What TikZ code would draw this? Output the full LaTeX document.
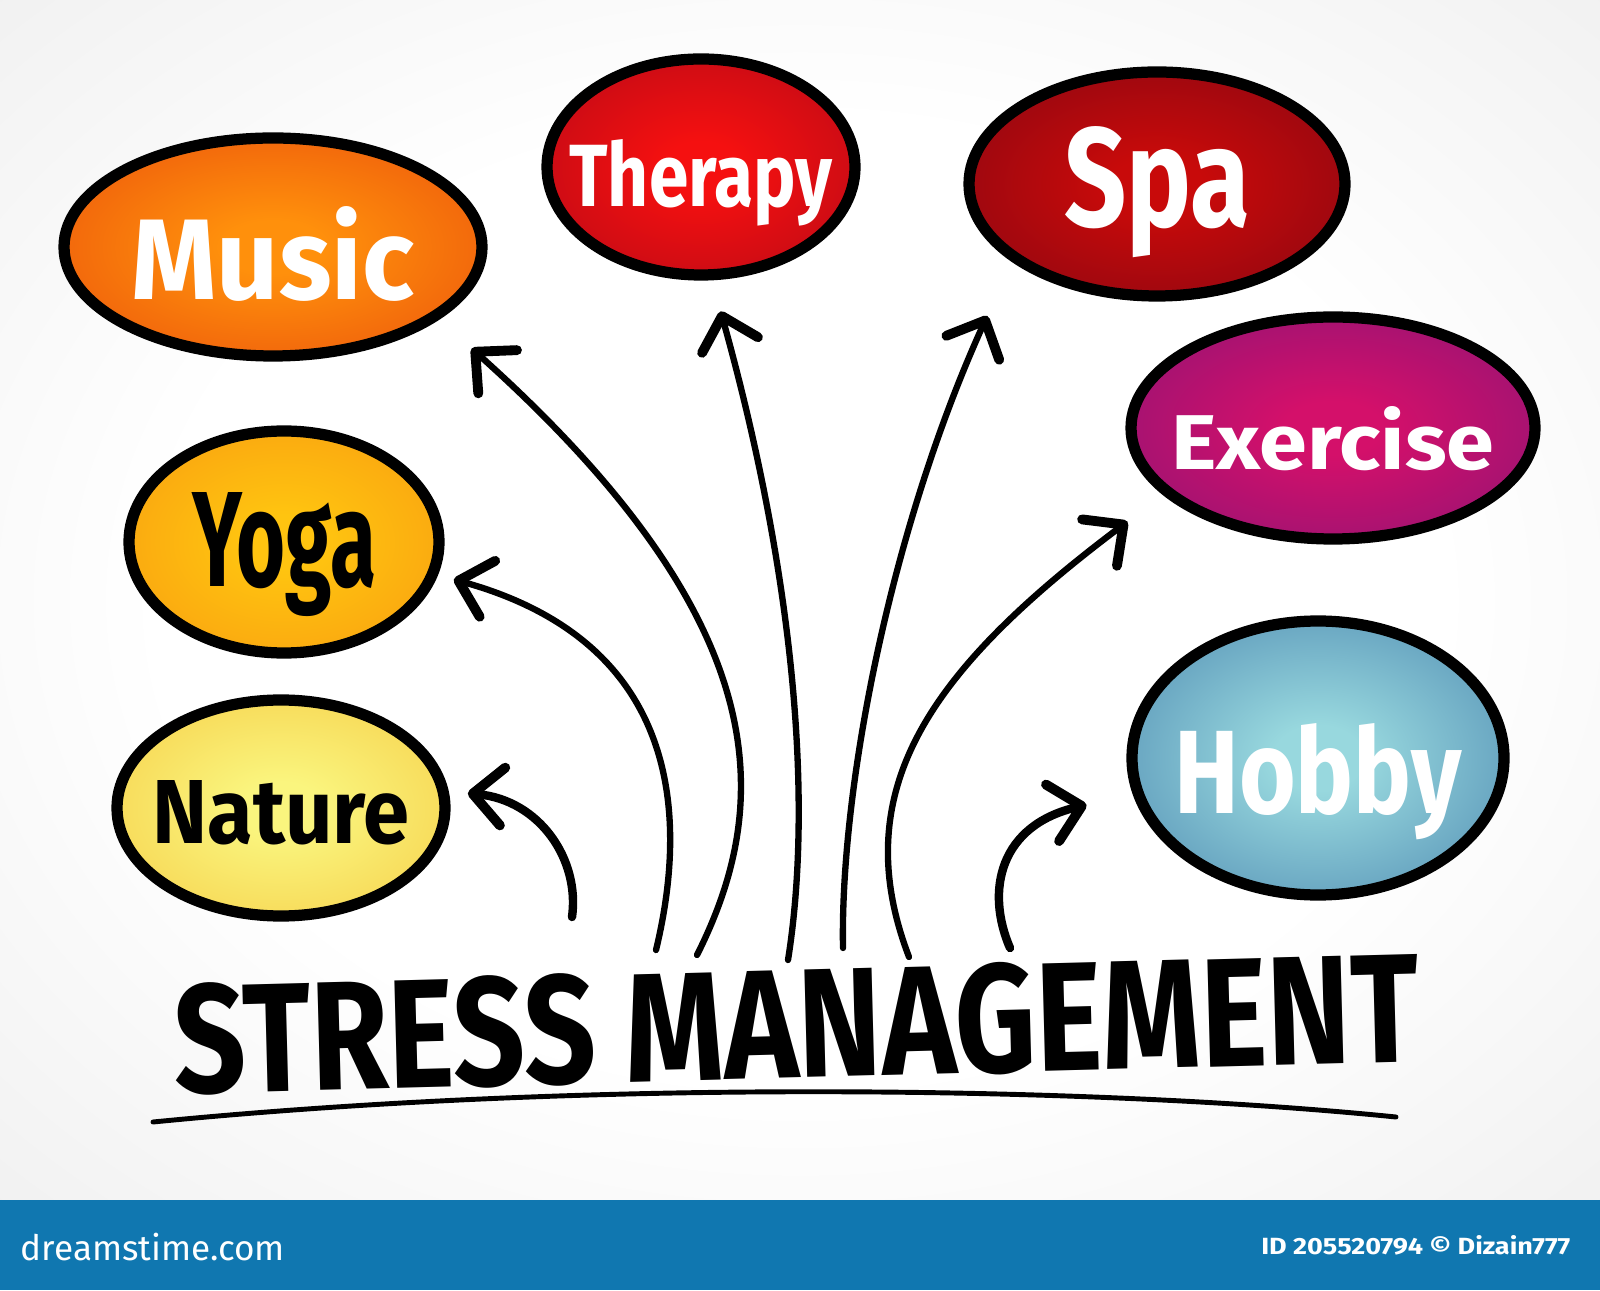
\documentclass[tikz,border=0pt]{standalone}
\usepackage{graphicx}
\usepackage{fontspec}
\setmainfont{Fira Sans}
\usepackage{tikz}
\usetikzlibrary{arrows.meta,shapes.geometric}
\definecolor{musicin}{HTML}{FF900C}
\definecolor{musicout}{HTML}{E6420C}
\definecolor{therapyin}{HTML}{F51010}
\definecolor{therapyout}{HTML}{A80818}
\definecolor{spain}{HTML}{C80A0A}
\definecolor{spaout}{HTML}{780614}
\definecolor{exin}{HTML}{D4106A}
\definecolor{exout}{HTML}{7C1478}
\definecolor{hobbyin}{HTML}{98D8DE}
\definecolor{hobbyout}{HTML}{3C76A6}
\definecolor{yogain}{HTML}{FFC410}
\definecolor{yogaout}{HTML}{F79210}
\definecolor{naturein}{HTML}{FAF57E}
\definecolor{natureout}{HTML}{F5C43A}
\definecolor{barblue}{HTML}{1077B0}
\colorlet{bubin}{white}
\colorlet{bubout}{white}
\pgfdeclareradialshading[bubin,bubout]{bubble}{\pgfpoint{0bp}{0bp}}{color(0bp)=(bubin); color(6bp)=(bubin); color(44bp)=(bubout); color(50bp)=(bubout)}
\pgfdeclareradialshading{paper}{\pgfpoint{0bp}{0bp}}{color(0bp)=(white); color(20bp)=(white); color(72bp)=(black!18)}
\newcommand{\bubtext}[3]{\makebox[0pt]{\resizebox{#1}{#2}{#3}}}
\tikzset{
bubble/.style 2 args={ellipse, draw=black, line width=3.2pt, inner sep=0pt, outer sep=0pt, % thick black rim
  /utils/exec={\colorlet{bubin}{#1}\colorlet{bubout}{#2}}, shade, shading=bubble, % light centre, dark edge
  font=\bfseries, text depth=0pt},
pointer/.style={-{Straight Barb[length=3mm,width=5.8mm,round,line width=2.8pt]}, line width=1.8pt, line cap=round}, % hand drawn arrows
}
\begin{document}
\begin{tikzpicture}
	\useasboundingbox (0,0) rectangle (16,12.90);
	\shade[shading=paper] (0,0.90) rectangle (16,12.90);
	\fill[barblue] (0,0) rectangle (16,0.90);

	\node[bubble={musicin}{musicout}, minimum width=4.18cm, minimum height=2.18cm, text=white, text height=1.06cm] (music) at (2.73,10.43) {\bubtext{2.83cm}{0.93cm}{Music}};
	\node[bubble={therapyin}{therapyout}, minimum width=3.08cm, minimum height=2.16cm, text=white, text height=0.80cm] (therapy) at (7.01,11.23) {\bubtext{2.63cm}{0.67cm}{Therapy}};
	\node[bubble={spain}{spaout}, minimum width=3.76cm, minimum height=2.24cm, text=white, text height=0.86cm] (spa) at (11.57,11.06) {\bubtext{1.86cm}{1.0cm}{Spa}};
	\node[bubble={exin}{exout}, minimum width=4.04cm, minimum height=2.22cm, text=white, text height=0.84cm] (exercise) at (13.33,8.62) {\bubtext{3.23cm}{0.63cm}{Exercise}};
	\node[bubble={hobbyin}{hobbyout}, minimum width=3.72cm, minimum height=2.74cm, text=white, text height=1.10cm] (hobby) at (13.18,5.32) {\bubtext{2.87cm}{0.90cm}{Hobby}};
	\node[bubble={yogain}{yogaout}, minimum width=3.10cm, minimum height=2.22cm, text height=0.90cm] (yoga) at (2.84,7.48) {\bubtext{1.84cm}{0.94cm}{Yoga}};
	\node[bubble={naturein}{natureout}, minimum width=3.28cm, minimum height=2.16cm, text height=0.70cm] (nature) at (2.81,4.82) {\bubtext{2.57cm}{0.63cm}{Nature}};

	\node[rotate=1.5, font=\bfseries, inner sep=0pt] (title) at (7.96,2.66) {\resizebox{12.45cm}{1.1cm}{STRESS MANAGEMENT}};
	\draw[line width=1.4pt, line cap=round] (1.53,1.68) .. controls (6,2.12) and (11,2.03) .. (13.96,1.73);

	% arrow tails just above the title
	\coordinate (tnature) at (5.72,3.73);
	\coordinate (tyoga) at (6.56,3.40);
	\coordinate (tmusic) at (6.97,3.35);
	\coordinate (ttherapy) at (7.88,3.30);
	\coordinate (tspa) at (8.43,3.42);
	\coordinate (texercise) at (9.09,3.33);
	\coordinate (thobby) at (10.10,3.42);

	\draw[pointer, line width=2.4pt, shorten >=0.25cm] (tnature) .. controls (5.80,4.30) and (5.40,4.90) .. (nature.6);
	\draw[pointer, shorten >=0.22cm] (tyoga) .. controls (6.85,4.6) and (6.9,6.45) .. (yoga.-12);
	\draw[pointer, shorten >=0.49cm] (tmusic) .. controls (7.75,4.9) and (7.75,6.7) .. (music.-23);
	\draw[pointer, shorten >=0.38cm] (ttherapy) .. controls (8.15,5.0) and (7.9,7.3) .. (therapy.-85);
	\draw[pointer, shorten >=0.65cm] (tspa) .. controls (8.4,5.0) and (8.9,7.6) .. (spa.207);
	\draw[pointer, shorten >=0.50cm] (texercise) .. controls (8.45,5.0) and (9.3,6.2) .. (exercise.201);
	\draw[pointer, line width=2.4pt, shorten >=0.53cm] (thobby) .. controls (9.85,4.0) and (10.0,4.65) .. (hobby.191);

	\node[anchor=west, text=white, inner sep=0pt] (site) at (0.20,0.43) {\resizebox{2.64cm}{!}{dreamstime.com}};
	\node[anchor=east, text=white, inner sep=0pt, font=\bfseries] (imgid) at (15.71,0.445) {\resizebox{3.09cm}{0.19cm}{ID 205520794 © Dizain777}};
\end{tikzpicture}
\end{document}
